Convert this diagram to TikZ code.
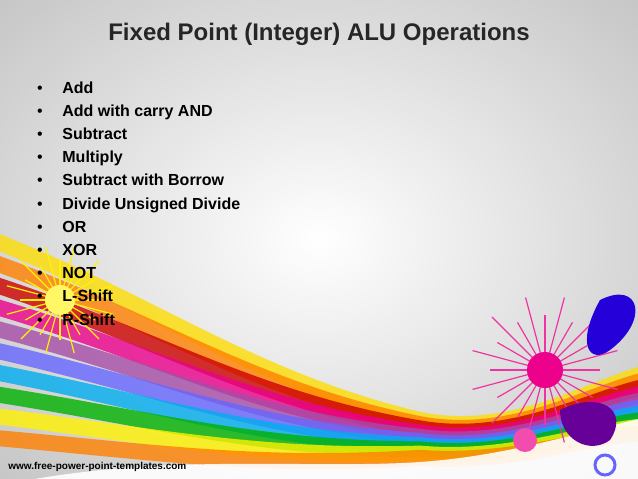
\documentclass[tikz,border=0pt]{standalone}
\usepackage{fontspec}
\setmainfont{Liberation Sans}
\usetikzlibrary{positioning}
\tikzset{%
	titletext/.style = {font=\bfseries\fontsize{12}{14}\selectfont, text=black!85},
	item/.style      = {font=\bfseries\fontsize{8}{9.6}\selectfont, anchor=base west, inner sep=0pt},
	dot/.style       = {font=\fontsize{8}{9.6}\selectfont, anchor=base, inner sep=0pt},
	band/.style      = {line width=#1, line cap=round},
}
\begin{document}
\begin{tikzpicture}[x=0.5pt,y=-0.5pt]
		\useasboundingbox (0,0) rectangle (638,478);
		\shade[inner color=white, outer color=black!22] (-120,-100) rectangle (758,578);
		
		% rainbow bands
		\foreach \c/\o [count=\i] in {yellow!80!orange/0,orange/14,red!80!black/28,magenta/42,violet!70/56,blue!60/70,cyan/84,green!70!black/98,yellow/112,orange/126}{
			\draw[band=8pt, \c, opacity=0.8] (-20,{235+\o*1.6}) .. controls (150,{300+\o*1.2}) and (250,{380+\o*0.7}) .. (420,{420+\o*0.3}) .. controls (520,{440+\o*0.2}) and (600,{380+\o*0.4}) .. (660,{370+\o*0.5});
		}
		\fill[white, opacity=0.9] (-20,490) .. controls (150,450) and (300,470) .. (420,462) .. controls (520,455) and (600,425) .. (660,415) -- (660,500) -- (-20,500) -- cycle;
		
		% starbursts
		\foreach \a in {0,15,...,345}{
			\draw[magenta!80, line width=0.6pt] (545,370) -- ++(\a:{55+20*mod(\a,30)/15});
			\draw[yellow, line width=0.6pt] (60,300) -- ++(\a:{40+15*mod(\a,30)/15});
		}
		\fill[magenta] (545,370) circle (18);
		\fill[yellow!60!white] (60,300) circle (15);
		
		% swirls
		\fill[blue!70!violet] (600,300) .. controls (640,280) and (650,320) .. (610,350) .. controls (590,365) and (575,345) .. cycle;
		\fill[violet!80!blue] (560,410) .. controls (600,390) and (630,410) .. (610,440) .. controls (590,455) and (560,440) .. cycle;
		\fill[magenta!70] (525,440) circle (12);
		\draw[blue!60, line width=1.5pt] (605,465) circle (10);
		
		\node[titletext] (title) at (319,34) {Fixed Point (Integer) ALU Operations};
		
		\foreach \t [count=\i] in {Add,Add with carry AND,Subtract,Multiply,Subtract with Borrow,Divide Unsigned Divide,OR,XOR,NOT,L-Shift,R-Shift}{
			\node[dot] (b\i) at (40,{93+(\i-1)*23.2}) {•};
			\node[item] (t\i) at (62,{93+(\i-1)*23.2}) {\t};
		}
		
		\node[font=\bfseries\fontsize{5}{6}\selectfont, anchor=west, inner sep=0pt] (url) at (8,467) {www.free-power-point-templates.com};
\end{tikzpicture}
\end{document}
